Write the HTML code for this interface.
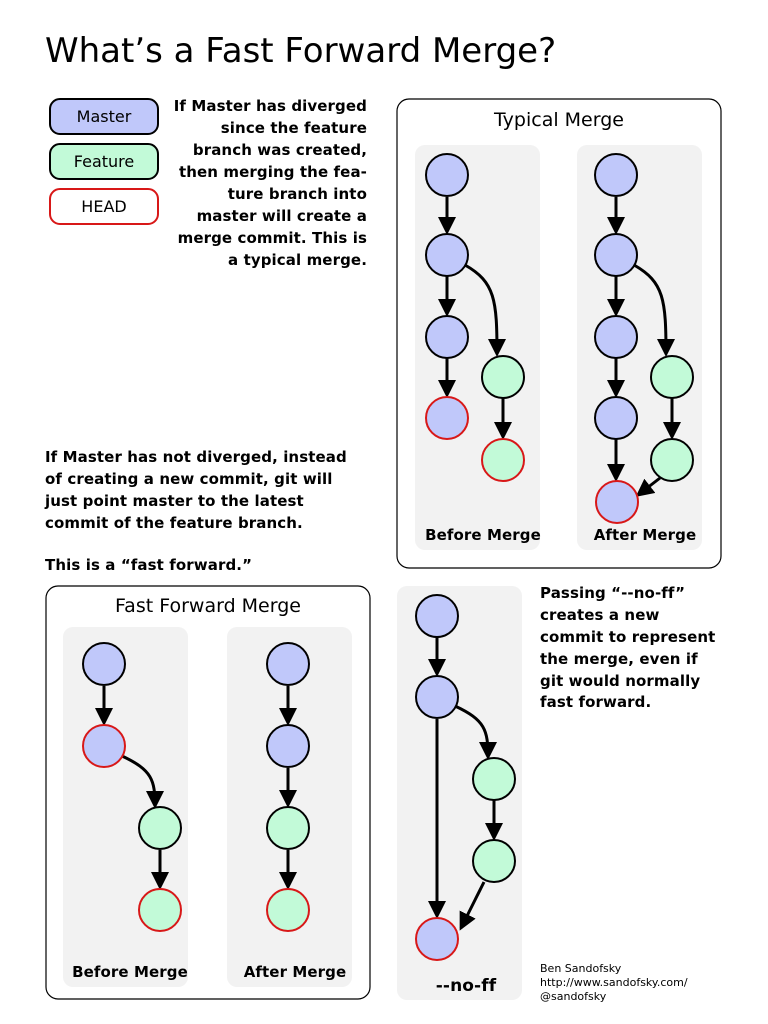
<!DOCTYPE html>
<html><head><meta charset="utf-8"><style>
html,body{margin:0;padding:0;background:#fff;}
svg{display:block;}
text{font-family:"DejaVu Sans","Liberation Sans",sans-serif;fill:#000;}
.b{fill:#c0c8fa;stroke:#000;stroke-width:2;}
.g{fill:#c2fad8;stroke:#000;stroke-width:2;}
.br{fill:#c0c8fa;stroke:#d81818;stroke-width:2;}
.gr{fill:#c2fad8;stroke:#d81818;stroke-width:2;}
.e{stroke:#000;stroke-width:3;fill:none;marker-end:url(#ah);}
.p{fill:#f2f2f2;}
.box{fill:#fff;stroke:#000;stroke-width:1.2;}
.t{font-size:15px;font-weight:bold;letter-spacing:0.1px;}
.l{font-size:16px;}
</style></head><body>
<svg width="768" height="1024" viewBox="0 0 768 1024">
<defs><marker id="ah" markerWidth="6" markerHeight="6" refX="5" refY="3" orient="auto" markerUnits="strokeWidth"><path d="M0,0 L6,3 L0,6 z" fill="#000"/></marker></defs>
<text x="45" y="62" style="font-size:34px">What’s a Fast Forward Merge?</text>

<rect x="50" y="99" width="108" height="35" rx="10" class="b"/>
<text x="104" y="122" text-anchor="middle" class="l">Master</text>
<rect x="50" y="144" width="108" height="35" rx="10" class="g"/>
<text x="104" y="167" text-anchor="middle" class="l">Feature</text>
<rect x="50" y="189" width="108" height="35" rx="10" fill="#fff" stroke="#d81818" stroke-width="2"/>
<text x="104" y="212" text-anchor="middle" class="l">HEAD</text>

<g class="t" text-anchor="end">
<text x="367" y="111">If Master has diverged</text>
<text x="367" y="133">since the feature</text>
<text x="367" y="155">branch was created,</text>
<text x="367" y="177">then merging the fea-</text>
<text x="367" y="199">ture branch into</text>
<text x="367" y="221">master will create a</text>
<text x="367" y="243">merge commit. This is</text>
<text x="367" y="265">a typical merge.</text>
</g>
<g class="t">
<text x="45" y="462">If Master has not diverged, instead</text>
<text x="45" y="484">of creating a new commit, git will</text>
<text x="45" y="506">just point master to the latest</text>
<text x="45" y="528">commit of the feature branch.</text>
<text x="45" y="570">This is a “fast forward.”</text>
</g>

<rect x="397" y="99" width="324" height="469" rx="12" class="box"/>
<text x="559" y="126" text-anchor="middle" style="font-size:19px">Typical Merge</text>
<rect x="415" y="145" width="125" height="405" rx="10" class="p"/>
<rect x="577" y="145" width="125" height="405" rx="10" class="p"/>
<line x1="447" y1="197" x2="447" y2="232" class="e"/>
<line x1="447" y1="276" x2="447" y2="314" class="e"/>
<line x1="447" y1="358" x2="447" y2="395" class="e"/>
<path d="M465,265 C495,282 497,300 497,354" class="e"/>
<line x1="503" y1="398" x2="503" y2="437" class="e"/>
<circle cx="447" cy="175" r="21" class="b"/>
<circle cx="447" cy="255" r="21" class="b"/>
<circle cx="447" cy="337" r="21" class="b"/>
<circle cx="447" cy="418" r="21" class="br"/>
<circle cx="503" cy="377" r="21" class="g"/>
<circle cx="503" cy="460" r="21" class="gr"/>
<line x1="616" y1="197" x2="616" y2="232" class="e"/>
<line x1="616" y1="276" x2="616" y2="314" class="e"/>
<line x1="616" y1="358" x2="616" y2="395" class="e"/>
<line x1="616" y1="439" x2="616" y2="479" class="e"/>
<path d="M634,265 C664,282 666,300 666,354" class="e"/>
<line x1="672" y1="398" x2="672" y2="437" class="e"/>
<line x1="660" y1="478" x2="638" y2="495" class="e"/>
<circle cx="616" cy="175" r="21" class="b"/>
<circle cx="616" cy="255" r="21" class="b"/>
<circle cx="616" cy="337" r="21" class="b"/>
<circle cx="616" cy="418" r="21" class="b"/>
<circle cx="617" cy="502" r="21" class="br"/>
<circle cx="672" cy="377" r="21" class="g"/>
<circle cx="672" cy="460" r="21" class="g"/>
<text x="483" y="540" text-anchor="middle" class="t">Before Merge</text>
<text x="645" y="540" text-anchor="middle" class="t">After Merge</text>

<rect x="46" y="586" width="324" height="413" rx="12" class="box"/>
<text x="208" y="612" text-anchor="middle" style="font-size:19px">Fast Forward Merge</text>
<rect x="63" y="627" width="125" height="360" rx="10" class="p"/>
<rect x="227" y="627" width="125" height="360" rx="10" class="p"/>
<line x1="104" y1="686" x2="104" y2="723" class="e"/>
<path d="M122,756 C152,770 155,780 155,806" class="e"/>
<line x1="160" y1="850" x2="160" y2="887" class="e"/>
<circle cx="104" cy="664" r="21" class="b"/>
<circle cx="104" cy="746" r="21" class="br"/>
<circle cx="160" cy="828" r="21" class="g"/>
<circle cx="160" cy="910" r="21" class="gr"/>
<line x1="288" y1="686" x2="288" y2="723" class="e"/>
<line x1="288" y1="768" x2="288" y2="805" class="e"/>
<line x1="288" y1="850" x2="288" y2="887" class="e"/>
<circle cx="288" cy="664" r="21" class="b"/>
<circle cx="288" cy="746" r="21" class="b"/>
<circle cx="288" cy="828" r="21" class="g"/>
<circle cx="288" cy="910" r="21" class="gr"/>
<text x="130" y="977" text-anchor="middle" class="t">Before Merge</text>
<text x="295" y="977" text-anchor="middle" class="t">After Merge</text>

<rect x="397" y="586" width="125" height="414" rx="10" class="p"/>
<line x1="437" y1="637" x2="437" y2="674" class="e"/>
<line x1="437" y1="719" x2="437" y2="916" class="e"/>
<path d="M455,706 C485,720 488,730 488,757" class="e"/>
<line x1="494" y1="800" x2="494" y2="838" class="e"/>
<line x1="484" y1="882" x2="461" y2="928" class="e"/>
<circle cx="437" cy="616" r="21" class="b"/>
<circle cx="437" cy="697" r="21" class="b"/>
<circle cx="494" cy="779" r="21" class="g"/>
<circle cx="494" cy="861" r="21" class="g"/>
<circle cx="437" cy="939" r="21" class="br"/>
<text x="466" y="991" text-anchor="middle" class="t" style="font-size:17px">--no-ff</text>

<g class="t">
<text x="540" y="598">Passing “--no-ff”</text>
<text x="540" y="620">creates a new</text>
<text x="540" y="642">commit to represent</text>
<text x="540" y="664">the merge, even if</text>
<text x="540" y="686">git would normally</text>
<text x="540" y="707">fast forward.</text>
</g>
<g style="font-size:11px">
<text x="540" y="972">Ben Sandofsky</text>
<text x="540" y="986">http://www.sandofsky.com/</text>
<text x="540" y="1000">@sandofsky</text>
</g>
</svg>
</body></html>
